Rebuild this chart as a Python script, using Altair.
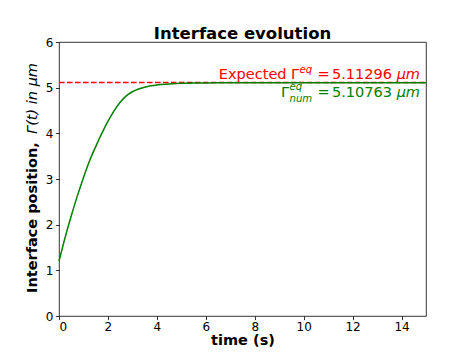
import altair as alt
import pandas as pd

# ---- data ----
time_s = [0, 0.25, 0.5, 0.75, 1.0, 1.25, 1.5, 1.75, 2.0, 2.25, 2.5, 2.75, 3.0,
          3.25, 3.5, 3.75, 4.0, 4.5, 5.0, 5.5, 6.0, 7.0, 8.0, 10.0, 12.0, 15.0]
position_um = [1.2, 1.72, 2.19, 2.63, 3.03, 3.40, 3.71, 4.00, 4.26, 4.49, 4.68,
               4.82, 4.91, 4.97, 5.01, 5.04, 5.06, 5.08, 5.095, 5.10, 5.104,
               5.106, 5.107, 5.1076, 5.1076, 5.10763]
expected_eq = 5.11296
numerical_eq = 5.10763
x_range = [0, 15]
y_range = [0, 6]
x_ticks = [0, 2, 4, 6, 8, 10, 12, 14]
y_ticks = [0, 1, 2, 3, 4, 5, 6]
title_text = "Interface evolution"
x_title = "time (s)"
y_title_bold = "Interface position,"
y_title_italic = "\u0393(t) in \u03bcm"

FONT = "DejaVu Sans"
RED = "#ff0000"
GREEN = "#008000"
S = 14.5
SS = 10.15

df = pd.DataFrame({"t": time_s, "pos": position_um})
eq_df = pd.DataFrame({"t": [x_range[0]], "t2": [x_range[1]], "pos": [expected_eq]})
one = pd.DataFrame({"a": [0]})

xs = alt.Scale(domain=x_range, nice=False)
ys = alt.Scale(domain=y_range, nice=False)

x_axis = alt.Axis(values=x_ticks, title=x_title, grid=False, domain=False,
                  tickSize=3.6, tickWidth=0.8, tickColor="black",
                  labelFont=FONT, labelFontSize=12, labelColor="black", labelPadding=2,
                  titleFont=FONT, titleFontSize=14.5, titleFontWeight="bold",
                  titleColor="black", titleBaseline="alphabetic", titleY=28.5)
y_axis = alt.Axis(values=y_ticks, title=None, grid=False, domain=False,
                  tickSize=3.6, tickWidth=0.8, tickColor="black",
                  labelFont=FONT, labelFontSize=12, labelColor="black", labelPadding=2.5)

rule = alt.Chart(eq_df).mark_rule(color=RED, strokeDash=[5.5, 2.5], strokeWidth=1.5).encode(
    x=alt.X("t:Q", scale=xs, axis=x_axis),
    x2="t2:Q",
    y=alt.Y("pos:Q", scale=ys, axis=y_axis),
)

line = alt.Chart(df).mark_line(color=GREEN, strokeWidth=1.5, interpolate="monotone").encode(
    x=alt.X("t:Q", scale=xs, axis=x_axis),
    y=alt.Y("pos:Q", scale=ys, axis=y_axis),
)


def txt(s, x, y, size=S, color="black", italic=False, bold=False,
        align="left", angle=0, baseline="alphabetic"):
    return alt.Chart(one).mark_text(
        text=s, align=align, baseline=baseline, fontSize=size, font=FONT,
        fontStyle="italic" if italic else "normal",
        fontWeight="bold" if bold else "normal",
        color=color, angle=angle,
    ).encode(x=alt.value(x), y=alt.value(y))


ann = [
    # expected value line
    txt("Expected \u0393", 240.2, 37.3, color=RED, align="right"),
    txt("eq", 240.6, 30.5, size=SS, color=RED, italic=True),
    txt("=", 258.4, 37.3, color=RED),
    txt(f"{expected_eq:.5f}", 333, 37.3, color=RED, align="right"),
    txt("\u03bcm", 361, 37.3, color=RED, italic=True, align="right"),
    # numerical value line
    txt("\u0393", 230.1, 54.5, color=GREEN, align="right"),
    txt("eq", 230.5, 47.5, size=SS, color=GREEN, italic=True),
    txt("num", 230.5, 60, size=SS, color=GREEN, italic=True),
    txt("=", 258.4, 54.5, color=GREEN),
    txt(f"{numerical_eq:.5f}", 333, 54.5, color=GREEN, align="right"),
    txt("\u03bcm", 361, 54.5, color=GREEN, italic=True, align="right"),
    # y axis title (mixed style)
    txt(y_title_bold, -26.5, 251, bold=True, angle=270, baseline="middle"),
    txt(y_title_italic, -26.5, 21, italic=True, angle=270, baseline="middle", align="right"),
]

chart = alt.layer(rule, line, *ann).properties(
    width=367, height=274,
    title=alt.TitleParams(title_text, font=FONT, fontSize=16.5, fontWeight="bold",
                          color="black", anchor="middle", offset=3, dy=9),
    autosize=alt.AutoSizeParams(type="none"),
    padding={"left": 51, "top": 34, "right": 40, "bottom": 31},
).configure_view(stroke="black", strokeWidth=0.8)

chart.save("out.html", embed_options={"renderer": "svg", "actions": False})
